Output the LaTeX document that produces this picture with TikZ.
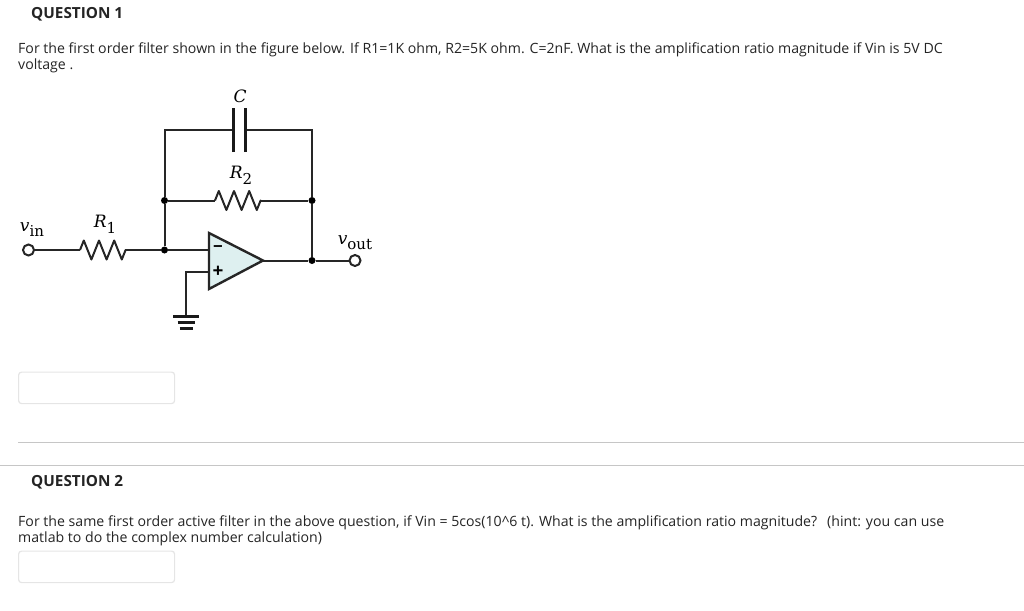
\documentclass[tikz,border=0pt]{standalone}
\usepackage{fontspec}
\setmainfont{Open Sans}
\newfontfamily\circfont{DejaVu Serif}
\usetikzlibrary{decorations.pathmorphing}
\definecolor{opfill}{rgb}{0.87,0.94,0.94}
\definecolor{txtcol}{rgb}{0.14,0.14,0.14}
\definecolor{boxcol}{rgb}{0.90,0.90,0.90}
\begin{document}
\begin{tikzpicture}[x=1pt, y=-1pt,
                    headtxt/.style={anchor=base west, inner sep=0, text=txtcol, font=\fontsize{15.3}{16}\selectfont\bfseries},
                    bodytxt/.style={anchor=base west, inner sep=0, text=txtcol, font=\fontsize{14.13}{16}\selectfont},
                    circtxt/.style={inner sep=0, font=\fontsize{17}{17}\circfont},
                    answerbox/.style={rectangle, draw=boxcol, fill=white, line width=1.2, rounded corners=3, minimum width=156, minimum height=31.5, inner sep=0},
                    sepline/.style={draw=gray!45, line width=1},
                    wire/.style={draw=black!85, line width=2},
                    platearr/.style={draw=black!90, line width=3},
                    zigres/.style={wire, line join=round, decorate, decoration={zigzag, segment length=15.2, amplitude=9.5}},
                    dot/.style={circle, fill=black, inner sep=0, minimum size=7},
                    term/.style={circle, draw=black!85, fill=white, line width=2, inner sep=0, minimum size=11}]

                    \useasboundingbox (0,0) rectangle (1024,610);

                    % question texts
                    \node[headtxt] (qone) at (31,19) {QUESTION 1};
                    \node[bodytxt] (qonea) at (18,53) {For the first order filter shown in the figure below. If R1=1K ohm, R2=5K ohm. C=2nF. What is the amplification ratio magnitude if Vin is 5V DC};
                    \node[bodytxt] (qoneb) at (18,69) {voltage .};
                    \node[answerbox, anchor=north west] (boxone) at (18,371.5) {};
                    \coordinate (sepa) at (18,442);
                    \coordinate (sepb) at (1024,442);
                    \coordinate (sepc) at (0,465);
                    \coordinate (sepd) at (1024,465);
                    \draw[sepline] (sepa) -- (sepb);
                    \draw[sepline] (sepc) -- (sepd);
                    \node[headtxt] (qtwo) at (31,486) {QUESTION 2};
                    \node[bodytxt] (qtwoa) at (18,526) {For the same first order active filter in the above question, if Vin = 5cos(10\^{}6 t). What is the amplification ratio magnitude?\hspace{10pt}(hint: you can use};
                    \node[bodytxt] (qtwob) at (18,542) {matlab to do the complex number calculation)};
                    \node[answerbox, anchor=north west] (boxtwo) at (18,550.5) {};

                    % circuit nodes
                    \node[term] (vin) at (28.5,250) {};
                    \node[term] (vout) at (355,260.5) {};
                    \node[dot] (jin) at (164.5,250) {};
                    \node[dot] (jtl) at (164.5,200.5) {};
                    \node[dot] (jtr) at (312,200.5) {};
                    \node[dot] (jout) at (312,260.5) {};
                    \coordinate (cornl) at (164.5,130);
                    \coordinate (cornr) at (312,130);
                    \coordinate (capl) at (233.3,130);
                    \coordinate (capr) at (245,130);
                    \coordinate (ronea) at (80,250);
                    \coordinate (roneb) at (126,250);
                    \coordinate (rtwoa) at (215,200.5);
                    \coordinate (rtwob) at (261,200.5);
                    \coordinate (opa) at (209,233);
                    \coordinate (opb) at (209,289);
                    \coordinate (opc) at (263,260.5);
                    \coordinate (opminus) at (209,250);
                    \coordinate (opplus) at (209,271.5);
                    \coordinate (gndknee) at (186,271.5);
                    \coordinate (gnd) at (186,316.5);

                    % wires
                    \draw[wire] (vin) -- (ronea);
                    \draw[zigres] (ronea) -- (roneb);
                    \draw[wire] (roneb) -- (jin) -- (opminus);
                    \draw[wire] (jin) -- (jtl) -- (cornl) -- (capl);
                    \draw[wire] (capr) -- (cornr) -- (jtr) -- (jout);
                    \draw[wire] (jtl) -- (rtwoa);
                    \draw[zigres] (rtwoa) -- (rtwob);
                    \draw[wire] (rtwob) -- (jtr);
                    \draw[wire] (opc) -- (jout) -- (vout);
                    \draw[wire] (opplus) -- (gndknee) -- (gnd);

                    % capacitor
                    \draw[platearr] ([yshift=-22]capl) -- ([yshift=22]capl);
                    \draw[platearr] ([yshift=-22]capr) -- ([yshift=22]capr);

                    % ground
                    \draw[platearr] ([xshift=-13]gnd) -- ([xshift=13]gnd);
                    \draw[platearr] ([xshift=-8.5,yshift=-5.5]gnd) -- ([xshift=8.5,yshift=-5.5]gnd);
                    \draw[platearr] ([xshift=-6.5,yshift=-11.5]gnd) -- ([xshift=6.5,yshift=-11.5]gnd);

                    % opamp
                    \draw[draw=black!85, fill=opfill, line width=2.4, line join=miter] (opa) -- (opc) -- (opb) -- cycle;
                    \node[inner sep=0, font=\fontsize{17}{17}\selectfont\bfseries] (minus) at (218,249.5) {\textminus};
                    \node[inner sep=0, font=\fontsize{19}{19}\selectfont\bfseries] (plus) at (218,271.5) {+};

                    % labels
                    \node[circtxt] (lc) at (240,96) {\itshape C};
                    \node[circtxt] (lrtwo) at (241,175) {{\itshape R}\raisebox{-6pt}{\fontsize{15}{15}\selectfont 2}};
                    \node[circtxt] (lrone) at (105,224) {{\itshape R}\raisebox{-6pt}{\fontsize{15}{15}\selectfont 1}};
                    \node[circtxt] (lvin) at (32,230) {{\itshape v}\raisebox{-5pt}{\fontsize{15}{15}\selectfont in}};
                    \node[circtxt] (lvout) at (355,243) {{\itshape v}\raisebox{-5pt}{\fontsize{15}{15}\selectfont out}};
\end{tikzpicture}
\end{document}
